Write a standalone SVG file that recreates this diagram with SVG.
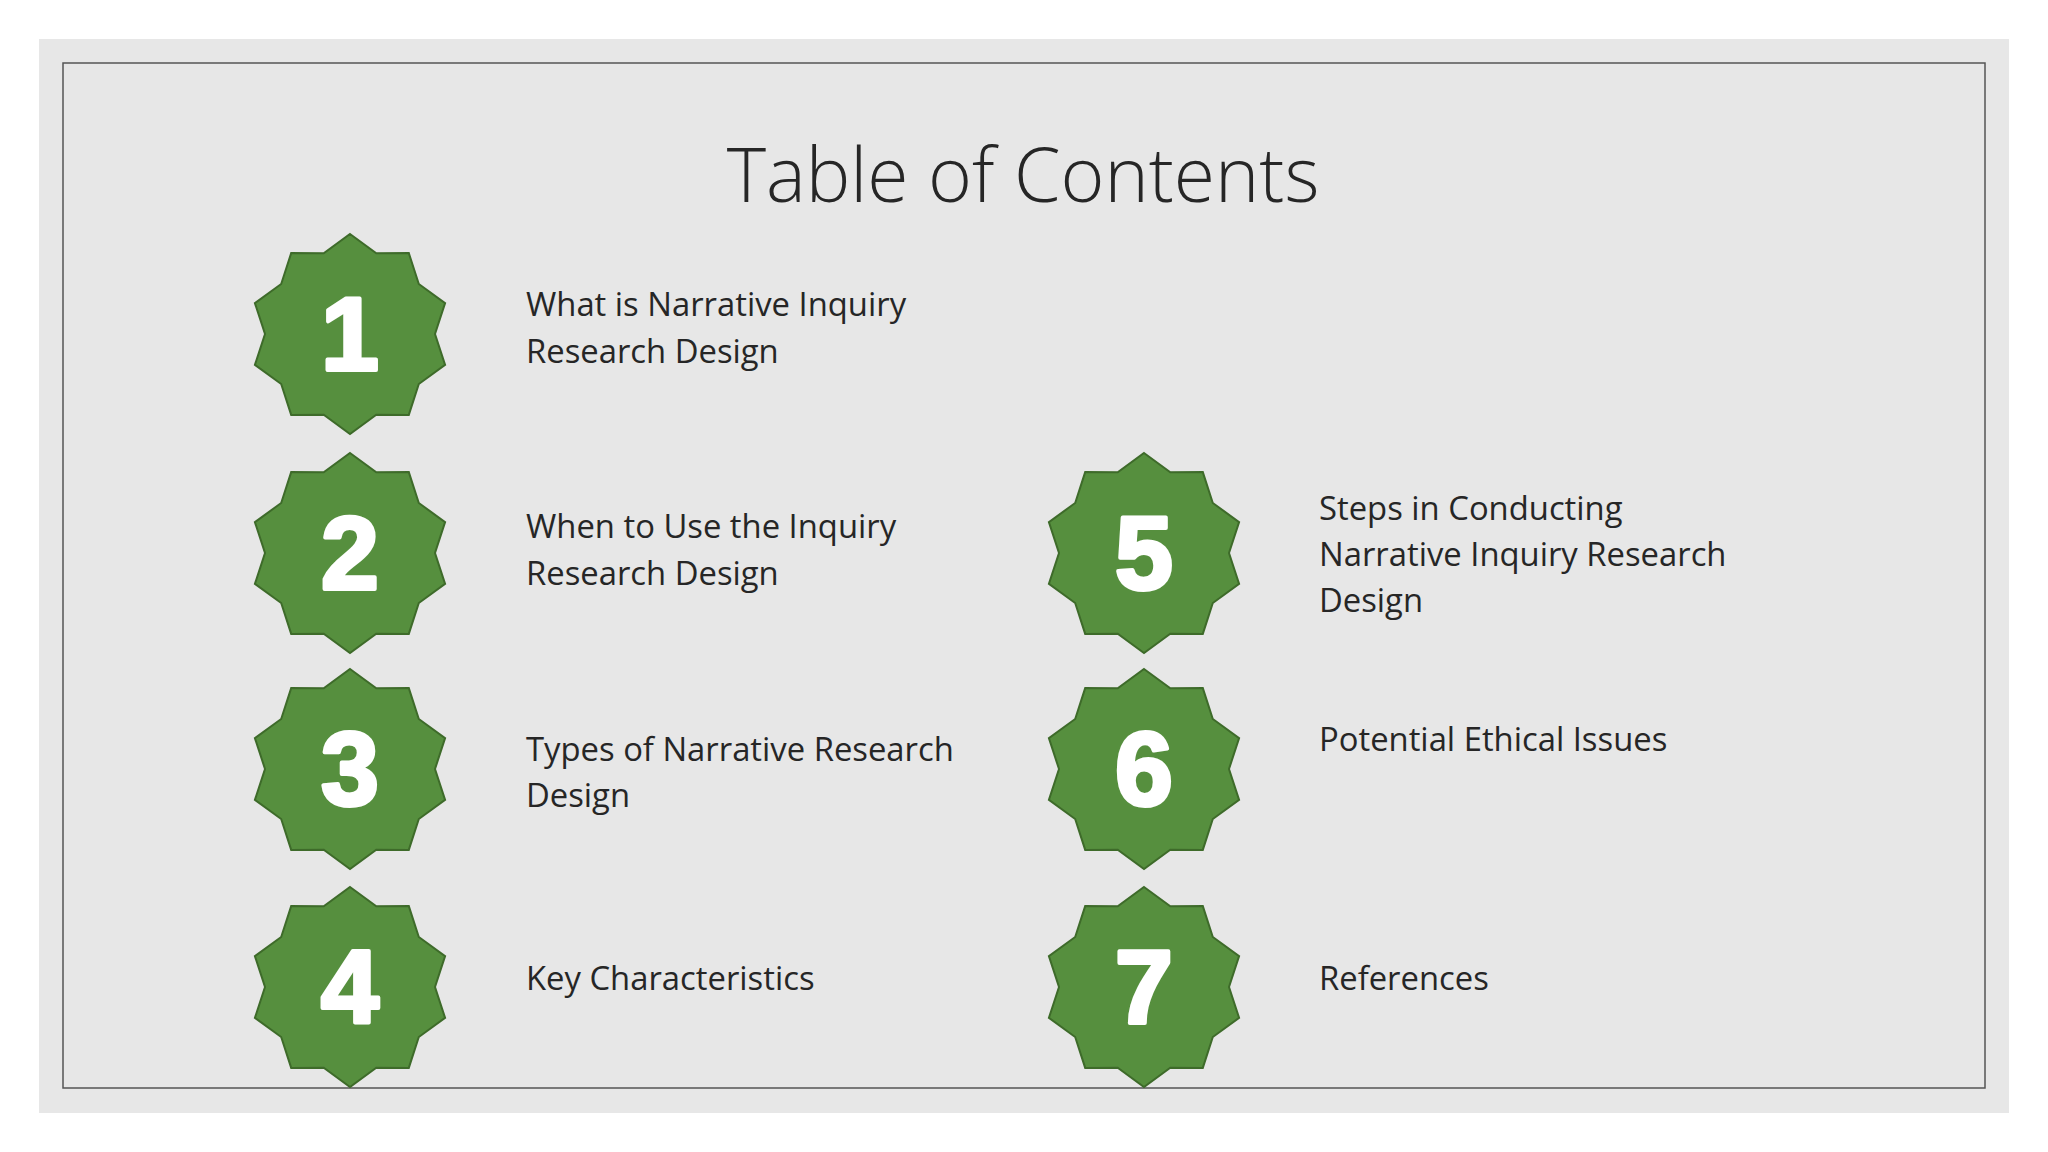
<svg xmlns="http://www.w3.org/2000/svg" width="2048" height="1152" viewBox="0 0 2048 1152">
<defs>
<style>
.t{font-family:"Open Sans","Liberation Sans",sans-serif;font-size:32.8px;fill:#262626}
.n{font-family:"Liberation Sans",Arial,sans-serif;font-weight:bold;font-size:104px;fill:#fff;stroke:#fff;stroke-width:4;stroke-linejoin:round;text-anchor:middle}
.s{fill:#568F3E;stroke:#3E6B2A;stroke-width:2}
</style>
<polygon id="star" points="0,-100 26.3,-80.8 58.8,-80.9 68.8,-50 95.1,-30.9 85,0 95.1,30.9 68.8,50 58.8,80.9 26.3,80.8 0,100 -26.3,80.8 -58.8,80.9 -68.8,50 -95.1,30.9 -85,0 -95.1,-30.9 -68.8,-50 -58.8,-80.9 -26.3,-80.8"/>
</defs>
<rect width="2048" height="1152" fill="#fff"/>
<rect x="39" y="39" width="1970" height="1074" fill="#e7e7e7"/>
<rect x="63" y="63" width="1922" height="1025" fill="none" stroke="#555" stroke-width="1.5"/>
<text x="1023" y="202" font-family="Open Sans, Liberation Sans, sans-serif" font-weight="300" font-size="75" fill="#262626" text-anchor="middle">Table of Contents</text>
<g id="n1"><use href="#star" class="s" x="350" y="334"/><text class="n" x="350" y="370">1</text><text class="t" x="526" y="316">What is Narrative Inquiry</text><text class="t" x="526" y="363">Research Design</text></g>
<g id="n2"><use href="#star" class="s" x="350" y="553"/><text class="n" x="350" y="589">2</text><text class="t" x="526" y="538">When to Use the Inquiry</text><text class="t" x="526" y="585">Research Design</text></g>
<g id="n3"><use href="#star" class="s" x="350" y="769"/><text class="n" x="350" y="805">3</text><text class="t" x="526" y="761">Types of Narrative Research</text><text class="t" x="526" y="807">Design</text></g>
<g id="n4"><use href="#star" class="s" x="350" y="987"/><text class="n" x="350" y="1023">4</text><text class="t" x="526" y="990">Key Characteristics</text></g>
<g id="n5"><use href="#star" class="s" x="1144" y="553"/><text class="n" x="1144" y="589">5</text><text class="t" x="1319" y="520">Steps in Conducting</text><text class="t" x="1319" y="566">Narrative Inquiry Research</text><text class="t" x="1319" y="612">Design</text></g>
<g id="n6"><use href="#star" class="s" x="1144" y="769"/><text class="n" x="1144" y="805">6</text><text class="t" x="1319" y="751">Potential Ethical Issues</text></g>
<g id="n7"><use href="#star" class="s" x="1144" y="987"/><text class="n" x="1144" y="1023">7</text><text class="t" x="1319" y="990">References</text></g>
<g id="connectors"/>
</svg>
